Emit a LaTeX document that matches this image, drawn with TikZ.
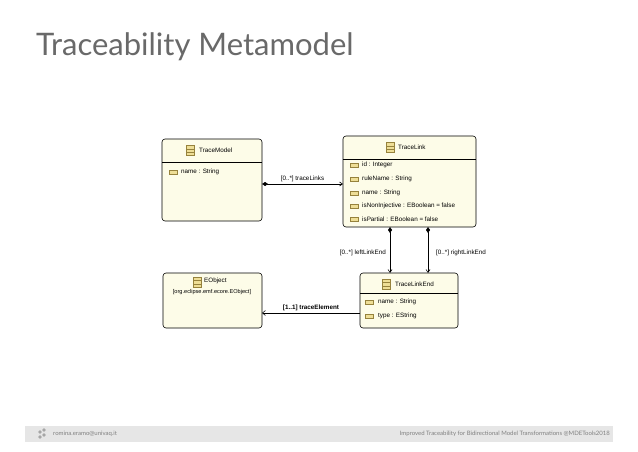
\documentclass[tikz,border=0pt]{standalone}
\usepackage{fontspec}
\setmainfont{Lato}
\setsansfont{Liberation Sans}
\usetikzlibrary{arrows.meta}
\usetikzlibrary{positioning}
\usetikzlibrary{calc}
\definecolor{classfill}{RGB}{253,252,232}
\definecolor{titlegray}{RGB}{105,105,105}
\definecolor{iconfill}{RGB}{238,222,150}
\definecolor{iconline}{RGB}{150,130,60}
\definecolor{barfill}{RGB}{230,230,230}
\newcommand{\classicon}[1]{%
  \draw[iconline, fill=iconfill, line width=0.5pt] ($(#1)+(-4,-5)$) rectangle ($(#1)+(4,5)$);
  \draw[iconline, line width=0.4pt] ($(#1)+(-4,-1.7)$) -- ($(#1)+(4,-1.7)$) ($(#1)+(-4,1.7)$) -- ($(#1)+(4,1.7)$);}
\newcommand{\attricon}[1]{%
  \draw[iconline, fill=iconfill, line width=0.4pt] ($(#1)+(-4,-1.8)$) rectangle ($(#1)+(4,1.8)$);}

\begin{document}
\begin{tikzpicture}[
    x=1pt, y=-1pt,
    >=Latex,
    cls/.style={draw, rounded corners=3pt, fill=classfill, line width=0.6pt},
    attr/.style={anchor=west, font=\sffamily\fontsize{6.3}{7}\selectfont, inner sep=0pt},
    hdr/.style={font=\sffamily\fontsize{6.3}{7}\selectfont, inner sep=0pt},
    lbl/.style={font=\sffamily\fontsize{6.3}{7}\selectfont, inner sep=1pt},
    comp/.style={line width=0.6pt, {Diamond[length=6pt,width=4pt]}-{Straight Barb[length=3pt,width=4pt]}}
]
    \useasboundingbox (0,0) rectangle (638,452);

    % title
    \node[anchor=west, text=titlegray, font=\fontsize{31}{34}\selectfont, inner sep=0pt] (title) at (36,47) {Traceability Metamodel};

    % classes
    \draw[cls] (162,139) rectangle (262,221);
    \draw[line width=0.4pt] (162,162) -- (262,162);
    \node[hdr, anchor=west] (tmname) at (199,150.5) {TraceModel};
    \classicon{190,150.5}
    \attricon{173,172}
    \node[attr] (tmattr) at (181,172) {name : String};

    \draw[cls] (343,136) rectangle (476,227);
    \draw[line width=0.4pt] (343,159) -- (476,159);
    \node[hdr, anchor=west] (tlname) at (398,147.5) {TraceLink};
    \classicon{390,147.5}
    \foreach \y/\t [count=\i] in {165/{id : Integer}, 179/{ruleName : String}, 193/{name : String},
        206/{isNonInjective : EBoolean = false}, 219/{isPartial : EBoolean = false}} {
      \attricon{354,\y}
      \node[attr] (tlattr\i) at (362,\y) {\t};
    }

    \draw[cls] (360,273) rectangle (458,328);
    \draw[line width=0.4pt] (360,293) -- (458,293);
    \node[hdr, anchor=west] (tlename) at (395,284) {TraceLinkEnd};
    \classicon{386,284}
    \foreach \y/\t [count=\i] in {302/{name : String}, 316/{type : EString}} {
      \attricon{369,\y}
      \node[attr] (tleattr\i) at (378,\y) {\t};
    }

    \draw[cls] (163,273) rectangle (262,328);
    \classicon{197,282}
    \node[hdr, anchor=west] (eoname) at (204,281) {EObject};
    \node[hdr, font=\sffamily\fontsize{5.6}{6}\selectfont] (eouri) at (212,292) {[org.eclipse.emf.ecore.EObject]};

    % connectors
    \coordinate (tmR) at (262,184);
    \coordinate (tlL) at (343,184);
    \draw[comp] (tmR) -- node[lbl, above=1pt] (lbllinks) {[0..*] traceLinks} (tlL);

    \coordinate (tlB1) at (390,227);
    \coordinate (tleT1) at (390,273);
    \draw[comp] (tlB1) -- (tleT1);
    \node[lbl, anchor=east] (lblleft) at (387,253) {[0..*] leftLinkEnd};

    \coordinate (tlB2) at (428,227);
    \coordinate (tleT2) at (428,273);
    \draw[comp] (tlB2) -- (tleT2);
    \node[lbl, anchor=west] (lblright) at (435,253) {[0..*] rightLinkEnd};

    \coordinate (tleL) at (360,313);
    \coordinate (eoR) at (262,313);
    \draw[line width=0.6pt, -{Straight Barb[length=3pt,width=5pt]}] (tleL) -- node[lbl, above=1pt, font=\sffamily\bfseries\fontsize{6.3}{7}\selectfont] (lblelem) {[1..1] traceElement} (eoR);

    % footer
    \fill[barfill] (25,426) rectangle (613,442);
    \foreach \dx/\dy in {0/0, 4/-2, 4/3, 0/5} { \fill[gray!70] (40+\dx,432+\dy) circle (1.8); }
    \node[anchor=west, text=gray, font=\fontsize{6}{7}\selectfont, inner sep=0pt] (mail) at (53,434) {romina.eramo@univaq.it};
    \node[anchor=east, text=gray, font=\fontsize{6}{7}\selectfont, inner sep=0pt] (foot) at (610,434) {Improved Traceability for Bidirectional Model Transformations @MDETools2018};
\end{tikzpicture}
\end{document}
